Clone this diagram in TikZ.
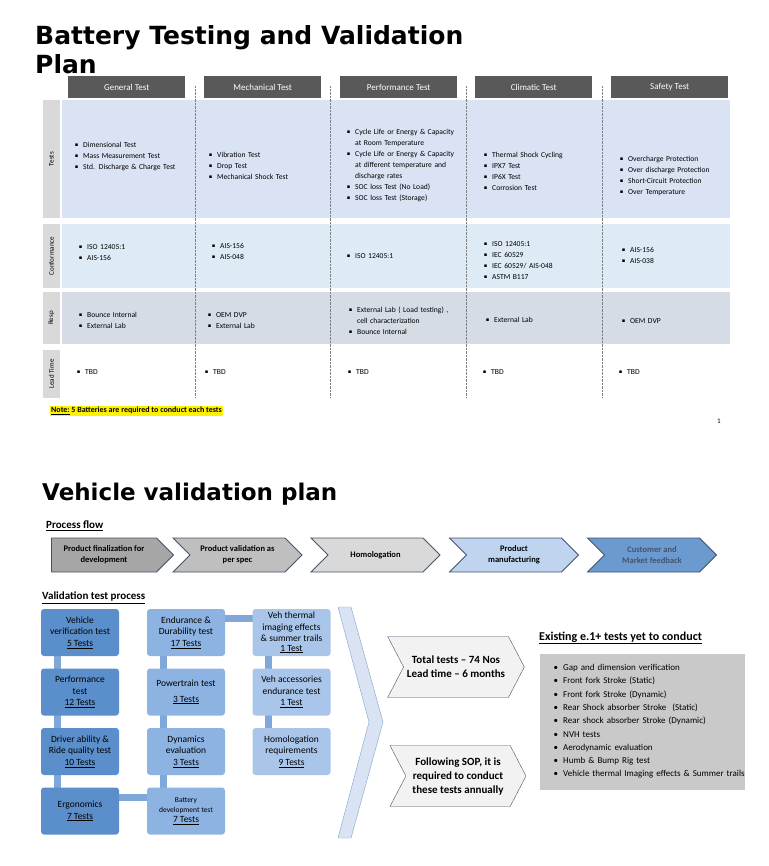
\documentclass[tikz,border=0pt]{standalone}
\usepackage{fontspec}
\usepackage{amssymb}
\usepackage{enumitem}
\setmainfont{Carlito}
\newfontfamily\titlefont{DejaVu Sans}
\usetikzlibrary{shapes.symbols,positioning}
\definecolor{hdrgray}{HTML}{595959}
\definecolor{lblgray}{HTML}{D9D9D9}
\definecolor{rowtest}{HTML}{DAE3F3}
\definecolor{rowconf}{HTML}{DEEBF7}
\definecolor{rowresp}{HTML}{D6DCE5}
\definecolor{edge}{HTML}{44546A}
\definecolor{blueA}{HTML}{5B8FCB}
\definecolor{blueB}{HTML}{8DB3E2}
\definecolor{blueC}{HTML}{A9C6EA}
\definecolor{linkblue}{HTML}{7FA7D8}
\newcommand{\sqb}{\raisebox{0.35ex}{\scalebox{0.45}{$\blacksquare$}}}
\newenvironment{blist}{\begin{itemize}[nosep,leftmargin=9pt,label=\sqb]}{\end{itemize}}
\tikzset{
  hdr/.style={fill=hdrgray, text=white, minimum width=117pt, minimum height=22pt,
    anchor=north west, inner sep=0pt, font=\fontsize{9}{10}\selectfont},
  lbl/.style={fill=lblgray, rotate=90, inner sep=0pt, font=\fontsize{7}{8}\selectfont},
  cell/.style={anchor=west, text width=112pt, align=left, inner sep=0pt,
    font=\fontsize{7.6}{11}\selectfont},
  flowstep/.style={draw=edge, thick, signal, signal to=east, signal from=west,
    minimum height=34pt, minimum width=129pt, inner sep=1pt, align=center,
    font=\bfseries\fontsize{8.5}{11}\selectfont},
  vbox/.style={rounded corners=3pt, minimum width=78pt, minimum height=47pt,
    align=center, inner sep=1pt, font=\fontsize{9.5}{11.5}\selectfont},
  link/.style={line width=7pt, linkblue},
  note/.style={draw=edge, fill=black!5, signal, signal to=east, signal from=west,
    signal pointer angle=125, minimum width=136pt, minimum height=61pt, align=center,
    font=\bfseries\fontsize{11}{14}\selectfont}
}
\begin{document}
\begin{tikzpicture}[x=1pt,y=-1pt]
\useasboundingbox (0,0) rectangle (768,866);

% battery plan
\node[anchor=north west, inner sep=0pt, font=\titlefont\bfseries\fontsize{25}{29}\selectfont, align=left]
  (title1) at (35,25) {Battery Testing and Validation\\Plan};

\fill[rowtest] (62,100) rectangle (730,218);
\fill[rowconf] (62,224) rectangle (730,288);
\fill[rowresp] (62,292) rectangle (730,344);
\foreach \ya/\yb/\t [count=\i] in {100/218/Tests, 224/288/Conformance, 292/344/Resp, 350/398/Lead Time}{
  \fill[lblgray] (43,\ya) rectangle (60,\yb);
  \node[lbl] (lbl\i) at (51.5,{(\ya+\yb)/2}) {\t};
}
\foreach \x in {195,330,466,602}
  \draw[gray, densely dotted] (\x,86) -- (\x,398);

\node[hdr] (hgen)  at (68,76)  {General Test};
\node[hdr] (hmech) at (204,76) {Mechanical Test};
\node[hdr] (hperf) at (340,76) {Performance Test};
\node[hdr] (hclim) at (475,76) {Climatic Test};
\node[hdr] (hsafe) at (611,76) {Safety Test};

% tests row
\node[cell] (tgen)  at (74,154)  {\begin{blist}\item Dimensional Test \item Mass Measurement Test \item Std. Discharge \& Charge Test\end{blist}};
\node[cell] (tmech) at (208,163) {\begin{blist}\item Vibration Test \item Drop Test \item Mechanical Shock Test\end{blist}};
\node[cell] (tperf) at (346,163) {\begin{blist}\item Cycle Life or Energy \& Capacity at Room Temperature \item Cycle Life or Energy \& Capacity at different temperature and discharge rates \item SOC loss Test (No Load) \item SOC loss Test (Storage)\end{blist}};
\node[cell] (tclim) at (483,169) {\begin{blist}\item Thermal Shock Cycling \item IPX7 Test \item IP6X Test \item Corrosion Test\end{blist}};
\node[cell] (tsafe) at (619,173) {\begin{blist}\item Overcharge Protection \item Over discharge Protection \item Short-Circuit Protection \item Over Temperature\end{blist}};
% conformance row
\node[cell] (cgen)  at (78,250)  {\begin{blist}\item ISO 12405:1 \item AIS-156\end{blist}};
\node[cell] (cmech) at (211,249) {\begin{blist}\item AIS-156 \item AIS-048\end{blist}};
\node[cell] (cperf) at (346,253) {\begin{blist}\item ISO 12405:1\end{blist}};
\node[cell] (cclim) at (483,258) {\begin{blist}\item ISO 12405:1 \item IEC 60529 \item IEC 60529/ AIS-048 \item ASTM B117\end{blist}};
\node[cell] (csafe) at (621,253) {\begin{blist}\item AIS-156 \item AIS-038\end{blist}};
% resp row
\node[cell] (rgen)  at (78,318)  {\begin{blist}\item Bounce Internal \item External Lab\end{blist}};
\node[cell] (rmech) at (207,318) {\begin{blist}\item OEM DVP \item External Lab\end{blist}};
\node[cell] (rperf) at (348,318) {\begin{blist}\item External Lab ( Load testing) , cell characterization \item Bounce Internal\end{blist}};
\node[cell] (rclim) at (485,317) {\begin{blist}\item External Lab\end{blist}};
\node[cell] (rsafe) at (621,318) {\begin{blist}\item OEM DVP\end{blist}};
% lead time row
\foreach \x/\n in {76/lgen,204/lmech,347/lperf,482/lclim,618/lsafe}
  \node[cell] (\n) at (\x,369) {\begin{blist}\item TBD\end{blist}};

\node[anchor=west, fill=yellow, inner sep=1pt, font=\bfseries\fontsize{8}{9}\selectfont]
  (note) at (50,411) {\underline{Note:} 5 Batteries are required to conduct each tests};
\node[font=\fontsize{7}{8}\selectfont] (pgno) at (719,421) {1};

% vehicle plan
\node[anchor=west, inner sep=0pt, font=\titlefont\bfseries\fontsize{23}{27}\selectfont]
  (title2) at (42,494) {Vehicle validation plan};
\node[anchor=west, inner sep=0pt, font=\bfseries\fontsize{11}{13}\selectfont]
  (pflow) at (46,526) {\underline{Process flow}};

\node[flowstep, signal from=nowhere, fill=black!35, minimum width=122pt] (s1) at (104,555) {Product finalization for\\development};
\node[flowstep, fill=black!25] (s2) at (237.5,555) {Product validation as\\per spec};
\node[flowstep, fill=black!15] (s3) at (375.5,555) {Homologation};
\node[flowstep, fill=blueC!75] (s4) at (514,555) {Product\\manufacturing};
\node[flowstep, fill=blueA!90, text=edge] (s5) at (652,555) {Customer and\\Market feedback};

\node[anchor=west, inner sep=0pt, font=\bfseries\fontsize{11}{13}\selectfont]
  (vproc) at (42,598) {\underline{Validation test process}};

% connectors behind boxes
\draw[link] (57,640) -- (57,800);
\draw[link] (163,640) -- (163,800);
\draw[link] (268,640) -- (268,740);
\draw[link] (200,618) -- (270,618);
\draw[link] (100,797) -- (170,797);

\node[vbox, fill=blueA] (v1) at (80,632.5) {Vehicle\\verification test\\\underline{5 Tests}};
\node[vbox, fill=blueA] (v2) at (80,692) {Performance\\test\\\underline{12 Tests}};
\node[vbox, fill=blueA] (v3) at (80,751.5) {Driver ability \&\\Ride quality test\\\underline{10 Tests}};
\node[vbox, fill=blueA] (v4) at (80,811) {Ergonomics\\\underline{7 Tests}};
\node[vbox, fill=blueB] (w1) at (186,632.5) {Endurance \&\\Durability test\\\underline{17 Tests}};
\node[vbox, fill=blueB] (w2) at (186,692) {Powertrain test\\[4pt]\underline{3 Tests}};
\node[vbox, fill=blueB] (w3) at (186,751.5) {Dynamics\\evaluation\\\underline{3 Tests}};
\node[vbox, fill=blueB, font=\fontsize{7.5}{10}\selectfont] (w4) at (186,811) {Battery\\development test\\\fontsize{9.5}{11.5}\selectfont\underline{7 Tests}};
\node[vbox, fill=blueC] (u1) at (291.5,632.5) {Veh thermal\\imaging effects\\\& summer trails\\[-2pt]\underline{1 Test}};
\node[vbox, fill=blueC] (u2) at (291.5,692) {Veh accessories\\endurance test\\\underline{1 Test}};
\node[vbox, fill=blueC] (u3) at (291.5,751.5) {Homologation\\requirements\\\underline{9 Tests}};

\draw[blueB!90!black, fill=rowtest] (338,607) -- (351,607) -- (383,722) -- (351,838)
  -- (338,838) -- (369,722) -- cycle;

\node[note] (ntot) at (456,667) {Total tests -- 74 Nos\\Lead time -- 6 months};
\node[note] (nsop) at (458,776) {Following SOP, it is\\required to conduct\\these tests annually};

\node[anchor=west, inner sep=0pt, font=\bfseries\fontsize{12}{14}\selectfont]
  (exist) at (539,638) {\underline{Existing e.1+ tests yet to conduct}};
\fill[black!21] (540,654) rectangle (745,790);
\node[anchor=north west, text width=200pt, inner sep=0pt, font=\fontsize{9}{13.3}\selectfont]
  (elist) at (545,657) {\begin{itemize}[nosep,leftmargin=18pt,label=\textbullet]
  \item Gap and dimension verification
  \item Front fork Stroke (Static)
  \item Front fork Stroke (Dynamic)
  \item Rear Shock absorber Stroke\ \ (Static)
  \item Rear shock absorber Stroke (Dynamic)
  \item NVH tests
  \item Aerodynamic evaluation
  \item Humb \& Bump Rig test
  \item Vehicle thermal Imaging effects \& Summer trails
  \end{itemize}};
\end{tikzpicture}
\end{document}
